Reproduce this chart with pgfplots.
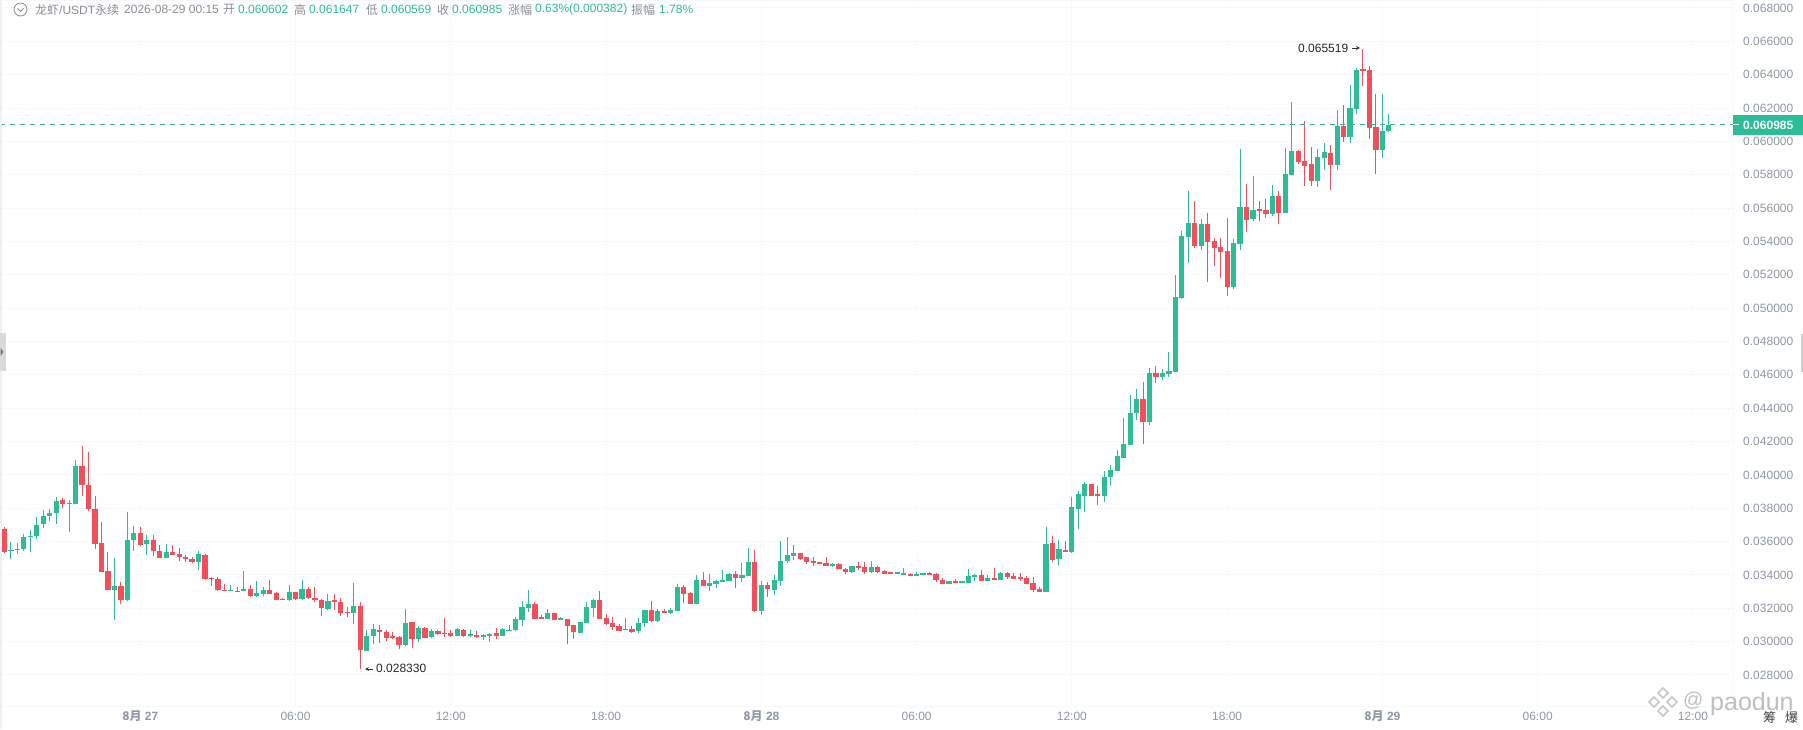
\documentclass[border=0pt]{standalone}
\usepackage{pgfplots}
\usepackage{pgfplotstable}
\usepackage{fontspec}
\pgfplotsset{compat=1.18}
\setmainfont{Liberation Sans}
\newfontfamily\cjk{Noto Sans CJK SC}
\definecolor{cg}{HTML}{2DBD96}
\definecolor{cr}{HTML}{F24F5B}
\definecolor{cdash}{HTML}{3FAE90}
\definecolor{gridc}{HTML}{F8F8F9}
\definecolor{tickc}{HTML}{8E97A3}
\definecolor{headc}{HTML}{8A8E96}
\pgfplotstableread{
k top bot high low
-20 0.03552 0.03542 0.03598 0.03494
-19 0.03558 0.03548 0.03594 0.03524
-18 0.03630 0.03554 0.03644 0.03542
-17 0.03636 0.03626 0.03670 0.03536
-16 0.03702 0.03632 0.03748 0.03618
-15 0.03756 0.03704 0.03792 0.03684
-14 0.03774 0.03752 0.03796 0.03722
-13 0.03846 0.03770 0.03868 0.03704
-11 0.03834 0.03824 0.03850 0.03658
-10 0.04056 0.03824 0.04092 0.03824
-4 0.03336 0.03308 0.03502 0.03132
-2 0.03612 0.03252 0.03780 0.03242
-1 0.03654 0.03608 0.03696 0.03542
1 0.03612 0.03584 0.03642 0.03520
4 0.03540 0.03504 0.03588 0.03500
9 0.03526 0.03476 0.03546 0.03428
14 0.03312 0.03302 0.03340 0.03302
16 0.03318 0.03302 0.03424 0.03302
18 0.03294 0.03272 0.03362 0.03270
19 0.03312 0.03288 0.03326 0.03272
23 0.03300 0.03248 0.03340 0.03246
25 0.03318 0.03254 0.03372 0.03252
29 0.03246 0.03198 0.03284 0.03192
33 0.03216 0.03170 0.03352 0.03104
35 0.03036 0.02946 0.03068 0.02942
36 0.03078 0.03036 0.03106 0.02984
41 0.03114 0.02978 0.03196 0.02976
43 0.03084 0.03018 0.03096 0.02996
45 0.03066 0.03026 0.03078 0.03024
49 0.03074 0.03032 0.03080 0.03032
51 0.03044 0.03032 0.03068 0.03028
53 0.03038 0.03028 0.03044 0.03012
54 0.03048 0.03034 0.03050 0.02998
56 0.03076 0.03034 0.03084 0.03032
57 0.03072 0.03064 0.03098 0.03062
58 0.03134 0.03068 0.03146 0.03064
59 0.03206 0.03130 0.03246 0.03094
60 0.03224 0.03202 0.03312 0.03178
63 0.03170 0.03136 0.03194 0.03134
65 0.03140 0.03130 0.03146 0.03128
68 0.03116 0.03052 0.03118 0.03050
69 0.03206 0.03112 0.03236 0.03110
70 0.03248 0.03202 0.03254 0.03146
75 0.03078 0.03070 0.03144 0.03068
77 0.03110 0.03062 0.03142 0.03054
78 0.03188 0.03112 0.03190 0.03088
80 0.03182 0.03122 0.03194 0.03118
82 0.03188 0.03170 0.03204 0.03166
83 0.03326 0.03182 0.03346 0.03182
86 0.03368 0.03226 0.03398 0.03224
88 0.03350 0.03332 0.03404 0.03306
89 0.03362 0.03344 0.03370 0.03320
90 0.03368 0.03358 0.03430 0.03358
91 0.03404 0.03362 0.03414 0.03362
93 0.03398 0.03380 0.03470 0.03356
94 0.03476 0.03394 0.03562 0.03392
96 0.03338 0.03182 0.03366 0.03158
98 0.03368 0.03308 0.03398 0.03282
99 0.03482 0.03362 0.03604 0.03334
100 0.03518 0.03482 0.03626 0.03472
101 0.03530 0.03514 0.03578 0.03492
107 0.03464 0.03454 0.03470 0.03448
110 0.03452 0.03416 0.03454 0.03412
113 0.03446 0.03416 0.03482 0.03412
117 0.03416 0.03406 0.03416 0.03404
118 0.03414 0.03402 0.03442 0.03402
120 0.03408 0.03396 0.03418 0.03396
121 0.03414 0.03402 0.03414 0.03400
125 0.03366 0.03348 0.03366 0.03348
127 0.03366 0.03354 0.03366 0.03352
128 0.03396 0.03354 0.03438 0.03354
129 0.03402 0.03390 0.03406 0.03366
131 0.03384 0.03366 0.03402 0.03366
133 0.03414 0.03372 0.03420 0.03368
140 0.03588 0.03300 0.03690 0.03300
142 0.03558 0.03498 0.03612 0.03462
144 0.03810 0.03540 0.03866 0.03534
145 0.03888 0.03798 0.03906 0.03678
146 0.03948 0.03876 0.03960 0.03780
149 0.03990 0.03876 0.04026 0.03838
150 0.04032 0.03990 0.04062 0.03936
151 0.04116 0.04026 0.04152 0.04026
152 0.04188 0.04104 0.04344 0.04100
153 0.04374 0.04182 0.04478 0.04182
154 0.04458 0.04374 0.04512 0.04332
156 0.04608 0.04320 0.04642 0.04302
158 0.04610 0.04586 0.04636 0.04568
159 0.04622 0.04604 0.04736 0.04588
160 0.05066 0.04616 0.05198 0.04616
161 0.05432 0.05060 0.05460 0.05056
162 0.05510 0.05426 0.05702 0.05268
164 0.05504 0.05372 0.05534 0.05350
169 0.05390 0.05126 0.05416 0.05112
170 0.05606 0.05384 0.05952 0.05348
172 0.05588 0.05534 0.05792 0.05522
175 0.05672 0.05564 0.05736 0.05552
177 0.05804 0.05570 0.05960 0.05570
178 0.05942 0.05798 0.06236 0.05798
182 0.05906 0.05762 0.05954 0.05724
183 0.05936 0.05900 0.05990 0.05830
185 0.06092 0.05858 0.06186 0.05830
187 0.06200 0.06026 0.06338 0.05992
188 0.06428 0.06194 0.06440 0.06162
192 0.06062 0.05948 0.06282 0.05902
193 0.060985 0.060602 0.061647 0.060569
}\greentable
\pgfplotstableread{
k top bot high low
-21 0.03678 0.03536 0.03690 0.03530
-12 0.03852 0.03824 0.03862 0.03802
-9 0.04056 0.03938 0.04176 0.03872
-8 0.03942 0.03794 0.04138 0.03782
-7 0.03798 0.03584 0.03876 0.03554
-6 0.03594 0.03416 0.03720 0.03416
-5 0.03426 0.03308 0.03540 0.03308
-3 0.03336 0.03252 0.03358 0.03224
0 0.03654 0.03582 0.03686 0.03576
2 0.03612 0.03542 0.03642 0.03512
3 0.03546 0.03504 0.03580 0.03500
5 0.03540 0.03522 0.03580 0.03518
6 0.03526 0.03506 0.03564 0.03482
7 0.03510 0.03494 0.03520 0.03478
8 0.03496 0.03476 0.03508 0.03472
10 0.03522 0.03374 0.03526 0.03370
11 0.03384 0.03374 0.03390 0.03334
12 0.03378 0.03308 0.03390 0.03304
13 0.03312 0.03302 0.03348 0.03302
15 0.03304 0.03296 0.03330 0.03296
17 0.03318 0.03272 0.03342 0.03268
20 0.03312 0.03288 0.03372 0.03288
21 0.03294 0.03248 0.03296 0.03248
22 0.03256 0.03248 0.03264 0.03248
24 0.03300 0.03254 0.03300 0.03252
26 0.03318 0.03260 0.03328 0.03258
27 0.03264 0.03248 0.03328 0.03240
28 0.03252 0.03200 0.03258 0.03154
30 0.03250 0.03236 0.03286 0.03192
31 0.03240 0.03170 0.03262 0.03152
32 0.03180 0.03170 0.03208 0.03146
34 0.03216 0.02948 0.03240 0.02833
37 0.03072 0.03056 0.03100 0.02992
38 0.03060 0.03024 0.03072 0.03002
39 0.03034 0.03024 0.03060 0.03016
40 0.03030 0.02978 0.03036 0.02954
42 0.03116 0.03018 0.03120 0.02964
44 0.03084 0.03024 0.03086 0.03020
46 0.03066 0.03048 0.03072 0.03042
47 0.03054 0.03044 0.03142 0.03028
48 0.03050 0.03034 0.03068 0.03030
50 0.03068 0.03032 0.03076 0.03026
52 0.03038 0.03028 0.03064 0.03024
55 0.03050 0.03032 0.03080 0.03018
61 0.03224 0.03134 0.03236 0.03134
62 0.03146 0.03136 0.03162 0.03134
64 0.03174 0.03130 0.03174 0.03130
66 0.03134 0.03094 0.03138 0.02988
67 0.03098 0.03056 0.03102 0.03014
71 0.03248 0.03134 0.03302 0.03134
72 0.03140 0.03104 0.03166 0.03102
73 0.03110 0.03086 0.03146 0.03072
74 0.03092 0.03064 0.03108 0.03062
76 0.03074 0.03056 0.03094 0.03052
79 0.03188 0.03122 0.03246 0.03120
81 0.03182 0.03170 0.03198 0.03170
84 0.03326 0.03286 0.03340 0.03230
85 0.03290 0.03226 0.03298 0.03224
87 0.03368 0.03334 0.03416 0.03332
92 0.03404 0.03380 0.03422 0.03320
95 0.03476 0.03184 0.03552 0.03178
97 0.03338 0.03314 0.03358 0.03270
102 0.03530 0.03494 0.03532 0.03490
103 0.03506 0.03476 0.03510 0.03466
104 0.03482 0.03470 0.03508 0.03456
105 0.03476 0.03464 0.03478 0.03464
106 0.03470 0.03454 0.03510 0.03452
108 0.03464 0.03436 0.03470 0.03434
109 0.03438 0.03416 0.03440 0.03404
111 0.03452 0.03440 0.03480 0.03432
112 0.03446 0.03416 0.03478 0.03406
114 0.03446 0.03416 0.03454 0.03414
115 0.03424 0.03406 0.03430 0.03404
116 0.03416 0.03406 0.03420 0.03404
119 0.03408 0.03396 0.03412 0.03396
122 0.03414 0.03402 0.03420 0.03400
123 0.03408 0.03368 0.03414 0.03356
124 0.03372 0.03348 0.03384 0.03348
126 0.03366 0.03354 0.03376 0.03352
130 0.03402 0.03366 0.03432 0.03366
132 0.03384 0.03372 0.03444 0.03372
134 0.03414 0.03388 0.03420 0.03376
135 0.03396 0.03378 0.03414 0.03376
136 0.03390 0.03378 0.03414 0.03366
137 0.03384 0.03348 0.03396 0.03348
138 0.03354 0.03312 0.03390 0.03300
139 0.03318 0.03300 0.03330 0.03300
141 0.03594 0.03492 0.03636 0.03476
143 0.03552 0.03540 0.03606 0.03540
147 0.03948 0.03876 0.03948 0.03876
148 0.03888 0.03876 0.03936 0.03822
155 0.04458 0.04320 0.04554 0.04186
157 0.04608 0.04584 0.04650 0.04548
163 0.05510 0.05372 0.05644 0.05362
165 0.05504 0.05396 0.05568 0.05156
166 0.05402 0.05360 0.05420 0.05252
167 0.05366 0.05336 0.05420 0.05178
168 0.05342 0.05126 0.05538 0.05072
171 0.05606 0.05528 0.05744 0.05458
173 0.05594 0.05582 0.05640 0.05522
174 0.05588 0.05564 0.05652 0.05540
176 0.05672 0.05570 0.05700 0.05506
179 0.05942 0.05876 0.05948 0.05864
180 0.05882 0.05852 0.06122 0.05732
181 0.05864 0.05762 0.05966 0.05734
184 0.05930 0.05858 0.05978 0.05710
186 0.06092 0.06026 0.06216 0.05994
189 0.06434 0.06422 0.065519 0.06332
190 0.06428 0.06080 0.06450 0.06014
191 0.06086 0.05948 0.06284 0.05802
}\redtable
\begin{document}
\begin{tikzpicture}[x=1pt,y=1pt]
\useasboundingbox (0,-23) rectangle (1803,706);
\begin{axis}[
  at={(0pt,0pt)}, anchor=south west,
  scale only axis, width=1733pt, height=706pt,
  xmin=-21.69, xmax=246.2, ymin=0.02614, ymax=0.068477,
  axis line style={draw=gridc},
  major tick length=0pt,
  grid=major, grid style={gridc, line width=1pt},
  xtick={0,24,48,72,96,120,144,168,192,216,240},
  xticklabels={{\textbf{\cjk\bfseries 8月} \textbf{27}},06:00,12:00,18:00,{\textbf{\cjk\bfseries 8月} \textbf{28}},06:00,12:00,18:00,{\textbf{\cjk\bfseries 8月} \textbf{29}},06:00,12:00},
  ytick={0.028,0.030,0.032,0.034,0.036,0.038,0.040,0.042,0.044,0.046,0.048,0.050,0.052,0.054,0.056,0.058,0.060,0.062,0.064,0.066,0.068},
  yticklabel pos=right,
  scaled y ticks=false,
  y tick label style={/pgf/number format/.cd, fixed, fixed zerofill, precision=6, assume math mode=true, /tikz/.cd, anchor=west, inner sep=0pt, xshift=10pt, text=tickc, font=\fontsize{12}{14}\selectfont},
  x tick label style={anchor=center, inner sep=0pt, yshift=-10.5pt, text=tickc, font=\fontsize{12}{14}\selectfont},
  clip=true,
]
\addplot[forget plot, draw=none, mark=none, error bars/.cd, y dir=minus, y explicit, error mark=none, error bar style={draw=cg, line width=1pt}]
  table[x=k, y=high, y error minus expr=\thisrow{high}-\thisrow{low}] {\greentable};
\addplot[forget plot, draw=none, mark=none, error bars/.cd, y dir=minus, y explicit, error mark=none, error bar style={draw=cg, line width=5.2pt}]
  table[x=k, y=top, y error minus expr=\thisrow{top}-\thisrow{bot}] {\greentable};
\addplot[forget plot, draw=none, mark=none, error bars/.cd, y dir=minus, y explicit, error mark=none, error bar style={draw=cr, line width=1pt}]
  table[x=k, y=high, y error minus expr=\thisrow{high}-\thisrow{low}] {\redtable};
\addplot[forget plot, draw=none, mark=none, error bars/.cd, y dir=minus, y explicit, error mark=none, error bar style={draw=cr, line width=5.2pt}]
  table[x=k, y=top, y error minus expr=\thisrow{top}-\thisrow{bot}] {\redtable};
\addplot[forget plot, cdash, line width=0.9pt, dash pattern=on 5pt off 5pt, mark=none] coordinates {(-21.69,0.060985) (246.2,0.060985)};
\end{axis}
% left strip and handles
\fill[black!6] (0,-23) rectangle (2,706);
\fill[black!15] (0,335) rectangle (6,373);
\fill[black!55] (0.5,350) -- (3.5,354) -- (0.5,358) -- cycle;
\fill[black!20] (1801,334) rectangle (1803,372);
% price tag
\fill[cg] (1733,571) rectangle (1803,591);
\draw[white, line width=1pt] (1733,581) -- (1739,581);
\node[anchor=west, inner sep=0pt, text=white, font=\fontsize{12}{14}\selectfont\bfseries] at (1743,581) {0.060985};
% extreme labels
\node[anchor=west, inner sep=0pt, text=black!85, font=\fontsize{12}{14}\selectfont] at (1298,658) {0.065519};
\draw[-stealth, black!80, line width=0.8pt] (1352,658) -- (1360,658);
\node[anchor=west, inner sep=0pt, text=black!85, font=\fontsize{12}{14}\selectfont] at (376,38) {0.028330};
\draw[-stealth, black!80, line width=0.8pt] (373,37) -- (365,37);
% header
\draw[headc, line width=0.8pt] (20.5,696.5) circle (6.5);
\draw[headc, line width=0.8pt] (17.5,697.5) -- (20.5,694.5) -- (23.5,697.5);
\begin{scope}[every node/.style={anchor=west, inner sep=0pt, font=\fontsize{12}{14}\selectfont}]
\node[text=headc] at (35,696.5) {{\cjk 龙虾}/USDT{\cjk 永续}};
\node[text=headc] at (124,696.5) {2026-08-29 00:15};
\node[text=headc] at (223,696.5) {\cjk 开};
\node[text=cg] at (238,696.5) {0.060602};
\node[text=headc] at (294,696.5) {\cjk 高};
\node[text=cg] at (309,696.5) {0.061647};
\node[text=headc] at (366,696.5) {\cjk 低};
\node[text=cg] at (381,696.5) {0.060569};
\node[text=headc] at (437,696.5) {\cjk 收};
\node[text=cg] at (452,696.5) {0.060985};
\node[text=headc] at (508,696.5) {\cjk 涨幅};
\node[text=cg] at (535,696.5) {0.63\%(0.000382)};
\node[text=headc] at (631,696.5) {\cjk 振幅};
\node[text=cg] at (659,696.5) {1.78\%};
\end{scope}
% watermark
\begin{scope}[black!22, line width=1.6pt]
\foreach \dx/\dy in {0/9,-9/0,9/0,0/-9}{
  \draw (1663+\dx,4+\dy+0) ++(0,-5) -- ++(5,5) -- ++(-5,5) -- ++(-5,-5) -- cycle;
}
\end{scope}
\node[anchor=west, inner sep=0pt, text=black!25, font=\fontsize{20}{24}\selectfont] at (1683,5) {@};
\node[anchor=west, inner sep=0pt, text=black!25, font=\fontsize{25}{28}\selectfont] at (1710,2) {paodun};
\node[anchor=west, inner sep=0pt, text=black!75, font=\fontsize{13}{15}\selectfont\cjk] at (1763,-12) {筹};
\node[anchor=west, inner sep=0pt, text=black!75, font=\fontsize{13}{15}\selectfont\cjk] at (1785,-12) {爆};
\end{tikzpicture}
\end{document}
